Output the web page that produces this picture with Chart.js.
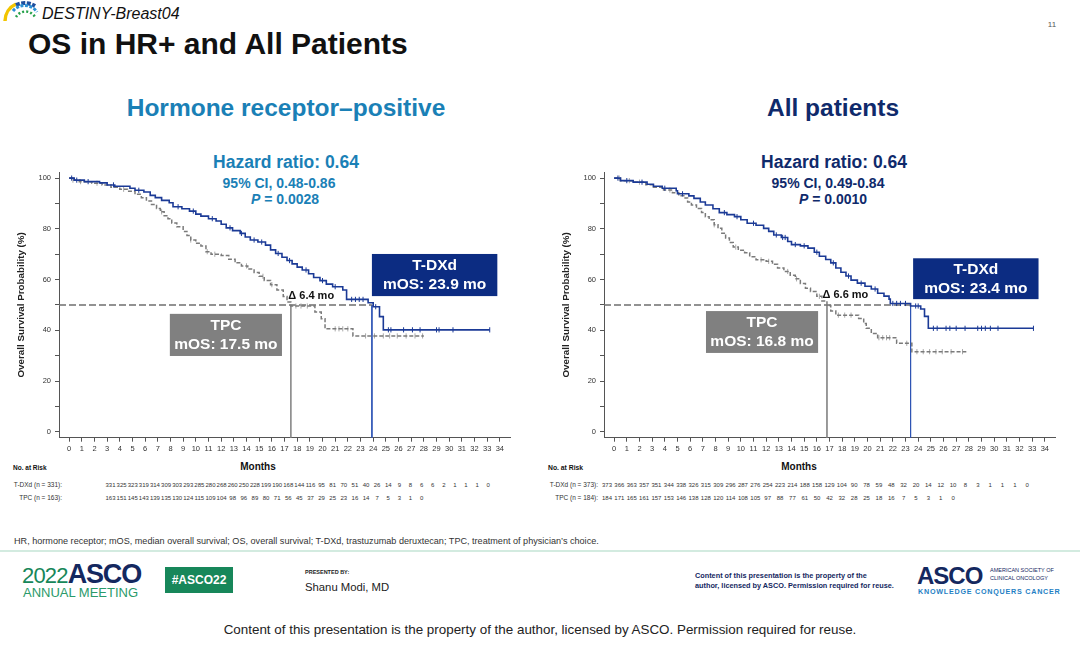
<!DOCTYPE html>
<html>
<head>
<meta charset="utf-8">
<script src="https://cdn.jsdelivr.net/npm/chart.js@4.4.1/dist/chart.umd.min.js"></script>
<style>
body{margin:0;width:1080px;height:646px;background:#fff;position:relative;overflow:hidden;font-family:"Liberation Sans",Arial,sans-serif;color:#111;}
.t{position:absolute;white-space:nowrap;line-height:1;}
.c{transform:translate(-50%,-50%);}
.l{transform:translateY(-50%);}
.r{transform:translate(-100%,-50%);}
.risk{position:absolute;white-space:nowrap;line-height:1;transform:translate(-50%,-50%);font-size:6px;color:#333;}
canvas{position:absolute;}
</style>
</head>
<body>
<svg width="40" height="24" style="position:absolute;left:2px;top:0">
  <path d="M3,21 A19,19 0 0 1 14,4" stroke="#f2c500" stroke-width="3.5" fill="none"/>
  <path d="M14,5 A20,20 0 0 1 33,6" stroke="#1f4f9e" stroke-width="4" stroke-dasharray="4,1.5" fill="none"/>
  <path d="M11,11 A15,15 0 0 1 35,12" stroke="#2c90d5" stroke-width="3" stroke-dasharray="3,1.5" fill="none"/>
  <path d="M14,17 A11,11 0 0 1 33,17" stroke="#27a24b" stroke-width="2.5" stroke-dasharray="2,2" fill="none"/>
</svg>
<div class="t l" style="left:42px;top:14px;font-size:16px;font-style:italic;">DESTINY-Breast04</div>
<div class="t l" style="left:28px;top:44px;font-size:30px;font-weight:bold;">OS in HR+ and All Patients</div>
<div class="t c" style="left:1052px;top:25px;font-size:8px;color:#555;">11</div>

<div class="t c" style="left:286px;top:108px;font-size:24.5px;font-weight:bold;color:#1a80b6;">Hormone receptor–positive</div>
<div class="t c" style="left:286px;top:163px;font-size:17.5px;font-weight:bold;color:#1a80b6;">Hazard ratio: 0.64</div>
<div class="t c" style="left:279px;top:183px;font-size:14px;font-weight:bold;color:#1a80b6;">95% CI, 0.48-0.86</div>
<div class="t c" style="left:285px;top:198.5px;font-size:14px;font-weight:bold;color:#1a80b6;"><i>P</i> = 0.0028</div>

<div class="t c" style="left:833px;top:108px;font-size:24.5px;font-weight:bold;color:#0f2a6b;">All patients</div>
<div class="t c" style="left:834px;top:163px;font-size:17.5px;font-weight:bold;color:#0f2a6b;">Hazard ratio: 0.64</div>
<div class="t c" style="left:828px;top:183px;font-size:14px;font-weight:bold;color:#0f2a6b;">95% CI, 0.49-0.84</div>
<div class="t c" style="left:833px;top:198.5px;font-size:14px;font-weight:bold;color:#0f2a6b;"><i>P</i> = 0.0010</div>

<canvas id="hrChart" width="530" height="300" style="left:0px;top:160px"></canvas>
<canvas id="allChart" width="530" height="300" style="left:545px;top:160px"></canvas>

<div class="t c" style="left:258px;top:467px;font-size:10px;font-weight:bold;">Months</div>
<div class="t l" style="left:13px;top:468px;font-size:6.5px;font-weight:bold;">No. at Risk</div>
<div class="t r" style="left:62px;top:485px;font-size:6.5px;color:#333;">T-DXd (n = 331):</div>
<div class="t r" style="left:62px;top:497.5px;font-size:6.5px;color:#333;">TPC (n = 163):</div>

<div class="t c" style="left:799px;top:467px;font-size:10px;font-weight:bold;">Months</div>
<div class="t l" style="left:548px;top:468px;font-size:6.8px;font-weight:bold;">No. at Risk</div>
<div class="t r" style="left:598px;top:485px;font-size:6.5px;color:#333;">T-DXd (n = 373):</div>
<div class="t r" style="left:598px;top:497.5px;font-size:6.5px;color:#333;">TPC (n = 184):</div>

<div class="t l" style="left:14px;top:542px;font-size:9.1px;color:#333;">HR, hormone receptor; mOS, median overall survival; OS, overall survival; T-DXd, trastuzumab deruxtecan; TPC, treatment of physician’s choice.</div>
<div style="position:absolute;left:0;top:550px;width:1080px;height:2px;background:#d3ebe0;"></div>

<div class="t l" style="left:22px;top:574px;font-size:22px;font-weight:500;color:#17875a;letter-spacing:-0.8px;">2022<b style="color:#14285f;font-size:27px;letter-spacing:-1.2px;">ASCO</b></div>
<div class="t l" style="left:23px;top:592px;font-size:13px;color:#2a9a6a;">ANNUAL MEETING</div>
<div style="position:absolute;left:165px;top:567px;width:68px;height:26px;background:#17875a;"></div>
<div class="t c" style="left:199px;top:580px;font-size:12px;font-weight:bold;color:#fff;">#ASCO22</div>
<div class="t l" style="left:305px;top:573px;font-size:5.5px;font-weight:bold;color:#222;">PRESENTED BY:</div>
<div class="t l" style="left:305px;top:588px;font-size:11.3px;color:#222;">Shanu Modi, MD</div>
<div class="t l" style="left:695px;top:576px;font-size:7.3px;font-weight:bold;color:#14285f;">Content of this presentation is the property of the</div>
<div class="t l" style="left:695px;top:586px;font-size:7.3px;font-weight:bold;color:#14285f;">author, licensed by ASCO. Permission required for reuse.</div>
<div class="t l" style="left:917px;top:576px;font-size:24px;font-weight:bold;color:#14285f;letter-spacing:-1px;">ASCO</div>
<div class="t l" style="left:990px;top:571px;font-size:5.5px;color:#14285f;">AMERICAN SOCIETY OF</div>
<div class="t l" style="left:990px;top:579px;font-size:5.5px;color:#14285f;">CLINICAL ONCOLOGY</div>
<div class="t l" style="left:918px;top:592px;font-size:7.2px;font-weight:bold;color:#1f7fc4;letter-spacing:0.75px;">KNOWLEDGE CONQUERS CANCER</div>

<div class="t c" style="left:540px;top:630px;font-size:13.4px;color:#222;">Content of this presentation  is the property of the author, licensed by ASCO. Permission required for reuse.</div>

<script>
// axis ticks
var months = [0,1,2,3,4,5,6,7,8,9,10,11,12,13,14,15,16,17,18,19,20,21,22,23,24,25,26,27,28,29,30,31,32,33,34];
var yTicks = [0,10,20,30,40,50,60,70,80,90,100];

// HR+ curves [month, survival %]
var hrTdxd = [[0,100],[0.4,99.2],[1.2,98.6],[2.4,98.1],[3.0,97.3],[3.6,96.8],[4.8,96.0],[5.2,95.2],[5.9,94.5],[6.4,93.2],[6.8,92.3],[7.3,91.2],[7.9,90.3],[8.2,88.7],[8.9,87.9],[9.5,87.0],[10.0,85.8],[10.4,85.0],[11.0,84.0],[11.6,83.1],[12.0,81.8],[12.4,80.4],[12.9,79.3],[13.5,78.2],[13.9,76.8],[14.3,75.6],[14.9,74.8],[15.5,73.6],[15.9,71.7],[16.3,70.3],[16.8,68.8],[17.2,67.5],[17.6,66.2],[18.0,64.9],[18.4,63.8],[18.9,62.3],[19.3,60.8],[19.8,59.6],[20.3,58.2],[20.8,57.2],[21.6,55.9],[21.9,52.2],[23.6,50.9],[24.0,49.3],[24.5,45.4],[24.8,40.2],[33.2,40.2]];
var hrTpc = [[0,100],[0.3,99.2],[0.8,98.6],[1.8,98.0],[2.6,97.3],[3.3,96.4],[4.0,95.6],[4.6,94.8],[5.2,93.6],[5.7,92.3],[6.1,91.0],[6.5,89.6],[6.9,88.0],[7.2,86.7],[7.5,85.2],[7.8,84.0],[8.1,82.3],[8.5,80.8],[9.0,79.0],[9.3,77.4],[9.6,75.6],[10.0,74.3],[10.4,73.2],[10.8,71.0],[11.2,70.0],[12.0,69.5],[12.6,68.0],[13.1,66.6],[13.6,65.4],[14.1,64.2],[14.6,62.8],[15.0,61.3],[15.4,59.6],[15.9,58.0],[16.4,55.9],[16.9,53.3],[17.2,51.2],[17.5,49.6],[19.4,47.2],[19.9,44.6],[20.2,40.6],[22.4,37.8],[28.0,37.8]];
var hrTdxdCensor = [0.2,0.6,1.5,3.5,5.5,8.6,9.8,11.3,12.7,13.6,14.6,15.2,16.5,17.4,18.7,20.0,21.0,22.3,22.6,22.9,23.2,24.2,25.2,25.4,26.4,27.1,27.7,29.0,29.2,30.3,33.2];
var hrTpcCensor = [0.3,0.9,2.2,4.3,7.3,9.6,10.9,11.5,14.0,15.3,16.0,17.9,18.3,18.8,21.0,21.3,21.6,22.0,23.4,24.1,24.8,25.3,25.9,26.6,27.3,27.9];
var hrMedianTdxd = 23.9, hrMedianTpc = 17.5;
var hrRiskTdxd = [331,325,323,319,314,309,303,293,285,280,268,260,250,228,199,190,168,144,116,95,81,70,51,40,26,14,9,8,6,6,2,1,1,1,0];
var hrRiskTpc = [163,151,145,143,139,135,130,124,115,109,104,98,96,89,80,71,56,45,37,29,25,23,16,14,7,5,3,1,0];

// all patients curves
var allTdxd = [[0,100],[0.5,99.0],[1.5,98.4],[2.6,97.6],[3.1,96.8],[3.8,96.0],[4.9,95.0],[5.0,93.8],[5.9,93.0],[6.3,92.0],[6.8,90.6],[7.2,89.4],[7.8,87.9],[8.3,86.4],[8.9,85.6],[9.5,84.8],[10.0,83.6],[10.5,82.2],[11.2,81.4],[11.8,80.2],[12.2,79.0],[12.6,77.6],[13.2,76.6],[13.7,75.0],[14.0,73.8],[14.7,73.3],[15.3,72.4],[15.8,70.8],[16.2,69.2],[16.7,67.9],[17.1,66.6],[17.5,64.6],[17.9,62.9],[18.3,61.4],[18.7,59.8],[19.2,58.6],[19.8,57.4],[20.3,56.3],[20.8,54.6],[21.3,53.5],[21.7,52.3],[21.8,50.6],[23.4,49.6],[24.2,48.4],[24.5,45.5],[24.8,40.8],[33.1,40.8]];
var allTpc = [[0,100],[0.5,99.0],[1.5,98.4],[2.5,97.4],[3.1,96.4],[3.9,95.3],[4.6,94.2],[5.1,93.0],[5.5,92.2],[5.8,90.6],[6.1,89.4],[6.5,88.0],[6.9,86.4],[7.2,84.8],[7.5,83.6],[7.9,81.6],[8.2,80.2],[8.5,78.3],[8.8,76.4],[9.1,74.6],[9.4,72.8],[9.8,71.6],[10.3,70.6],[10.7,69.0],[11.2,67.8],[12.0,67.2],[12.5,66.0],[12.9,64.6],[13.4,63.2],[13.9,61.7],[14.3,60.3],[14.7,58.5],[15.1,56.6],[15.5,55.3],[16.0,53.4],[16.4,51.6],[16.8,49.8],[17.1,47.6],[17.5,46.0],[19.3,44.7],[19.7,42.7],[19.9,40.8],[20.3,38.8],[20.8,37.1],[22.3,34.9],[23.5,31.6],[27.8,31.6]];
var allTdxdCensor = [0.3,1.0,2.2,4.0,5.4,8.7,9.7,11.0,12.8,13.3,13.5,14.3,15.0,16.0,17.3,18.5,19.5,20.6,22.0,22.3,22.6,23.0,23.8,24.0,25.2,25.5,26.2,26.5,27.0,27.7,28.7,29.0,29.3,29.7,30.3,33.1];
var allTpcCensor = [0.4,1.2,2.0,4.4,7.9,9.6,11.6,12.2,13.7,14.4,16.2,17.7,18.2,18.7,20.9,21.2,21.5,21.75,23.1,23.9,24.4,24.9,25.4,25.9,26.6,27.5];
var allMedianTdxd = 23.4, allMedianTpc = 16.8;
var allRiskTdxd = [373,366,363,357,351,344,338,326,315,309,296,287,276,254,223,214,188,158,129,104,90,78,59,48,32,20,14,12,10,8,3,1,1,1,0];
var allRiskTpc = [184,171,165,161,157,153,146,138,128,120,114,108,105,97,88,77,61,50,42,32,28,25,18,16,7,5,3,1,0];

var navy = '#1b3a96';
var gray = '#7a7a7a';
var xMin = -0.8, xMax = 34.8, yMin = -2.3, yMax = 102.4;

function survAt(curve, t) {
  var v = curve[0][1];
  for (var i = 0; i < curve.length; i++) {
    if (curve[i][0] <= t) v = curve[i][1];
  }
  return v;
}

function pts(curve) {
  return curve.map(function(p){ return {x: p[0], y: p[1]}; });
}

function censorPts(curve, times) {
  return times.map(function(t){ return {x: t, y: survAt(curve, t)}; });
}

var notesPlugin = {
  id: 'notes',
  afterDatasetsDraw: function(chart, args, opts) {
    var ctx = chart.ctx, xs = chart.scales.x, ys = chart.scales.y;
    ctx.save();
    opts.boxes.forEach(function(b){
      var x0 = xs.getPixelForValue(b.x0), x1 = xs.getPixelForValue(b.x1);
      var y0 = ys.getPixelForValue(b.top), y1 = ys.getPixelForValue(b.bottom);
      ctx.fillStyle = b.color;
      ctx.fillRect(x0, y0, x1 - x0, y1 - y0);
      ctx.fillStyle = '#fff';
      ctx.font = 'bold 15.5px "Liberation Sans", Arial';
      ctx.textAlign = 'center';
      ctx.textBaseline = 'middle';
      var cx = (x0 + x1) / 2, h = y1 - y0;
      ctx.fillText(b.lines[0], cx, y0 + h * 0.29);
      ctx.fillText(b.lines[1], cx, y0 + h * 0.74);
    });
    ctx.fillStyle = '#111';
    ctx.font = 'bold 11px "Liberation Sans", Arial';
    ctx.textAlign = 'left';
    ctx.textBaseline = 'middle';
    ctx.fillText(opts.delta.text, xs.getPixelForValue(opts.delta.x), ys.getPixelForValue(opts.delta.y));
    ctx.restore();
  }
};

function makeChart(id, d) {
  var ctx = document.getElementById(id);
  return new Chart(ctx, {
    type: 'line',
    data: {
      datasets: [
        { data: pts(d.tdxd), borderColor: navy, borderWidth: 1.6, stepped: true, pointRadius: 0, order: 1 },
        { data: censorPts(d.tdxd, d.tdxdCensor), showLine: false, pointStyle: 'line', rotation: 90, pointRadius: 2.6, borderColor: navy, borderWidth: 1, order: 1 },
        { data: pts(d.tpc), borderColor: gray, borderWidth: 1.5, borderDash: [4, 2], stepped: true, pointRadius: 0, order: 2 },
        { data: censorPts(d.tpc, d.tpcCensor), showLine: false, pointStyle: 'line', rotation: 90, pointRadius: 2.6, borderColor: '#a8a8a8', borderWidth: 1, order: 2 },
        { data: [{x: xMin, y: 50}, {x: d.medTdxd, y: 50}], borderColor: '#6f6f6f', borderWidth: 1.3, borderDash: [7, 3], pointRadius: 0, order: 3 },
        { data: [{x: d.medTpc, y: 50}, {x: d.medTpc, y: yMin}], borderColor: '#8c8c8c', borderWidth: 1, pointRadius: 0, order: 3 },
        { data: [{x: d.medTdxd, y: 50}, {x: d.medTdxd, y: yMin}], borderColor: '#2f55b5', borderWidth: 1, pointRadius: 0, order: 3 }
      ]
    },
    options: {
      responsive: false,
      animation: false,
      layout: { padding: { top: 12, right: 20, left: 0, bottom: 0 } },
      plugins: {
        legend: { display: false },
        tooltip: { enabled: false },
        notes: { boxes: d.boxes, delta: d.delta }
      },
      scales: {
        x: {
          type: 'linear', min: xMin, max: xMax,
          afterFit: function(s){ s.height = 22.3; },
          afterBuildTicks: function(s){ s.ticks = months.map(function(v){ return {value: v}; }); },
          grid: { drawOnChartArea: false, drawTicks: true, tickLength: 4, color: '#555' },
          border: { display: true, color: '#555', width: 1 },
          ticks: { font: { size: 7.5, family: '"Liberation Sans", Arial' }, color: '#333', padding: 3, maxRotation: 0, autoSkip: false }
        },
        y: {
          type: 'linear', min: yMin, max: yMax,
          afterFit: function(s){ s.width = 59; },
          afterBuildTicks: function(s){ s.ticks = yTicks.map(function(v){ return {value: v}; }); },
          grid: { drawOnChartArea: false, drawTicks: true, tickLength: 4, color: '#555' },
          border: { display: true, color: '#555', width: 1 },
          ticks: { font: { size: 7.5, family: '"Liberation Sans", Arial' }, color: '#333', padding: 4,
            callback: function(v){ return v % 20 === 0 ? v : ''; } },
          title: { display: true, text: 'Overall Survival Probability (%)', color: '#222',
            font: { size: 9.8, weight: 'bold', family: '"Liberation Sans", Arial' }, padding: { top: 15.8, bottom: 0 } }
        }
      }
    },
    plugins: [notesPlugin]
  });
}

makeChart('hrChart', {
  tdxd: hrTdxd, tpc: hrTpc, tdxdCensor: hrTdxdCensor, tpcCensor: hrTpcCensor,
  medTdxd: hrMedianTdxd, medTpc: hrMedianTpc,
  boxes: [
    { x0: 23.9, x1: 33.8, top: 70.1, bottom: 53.5, color: '#0c2c82', lines: ['T-DXd', 'mOS: 23.9 mo'] },
    { x0: 7.95, x1: 16.8, top: 46.5, bottom: 29.9, color: '#808080', lines: ['TPC', 'mOS: 17.5 mo'] }
  ],
  delta: { text: 'Δ 6.4 mo', x: 17.3, y: 53.7 }
});

makeChart('allChart', {
  tdxd: allTdxd, tpc: allTpc, tdxdCensor: allTdxdCensor, tpcCensor: allTpcCensor,
  medTdxd: allMedianTdxd, medTpc: allMedianTpc,
  boxes: [
    { x0: 23.6, x1: 33.5, top: 68.4, bottom: 52.3, color: '#0c2c82', lines: ['T-DXd', 'mOS: 23.4 mo'] },
    { x0: 7.25, x1: 16.1, top: 47.6, bottom: 31.1, color: '#808080', lines: ['TPC', 'mOS: 16.8 mo'] }
  ],
  delta: { text: 'Δ 6.6 mo', x: 16.45, y: 53.9 }
});

// numbers at risk rows
function riskRow(vals, x0, step, y) {
  vals.forEach(function(v, i){
    var s = document.createElement('div');
    s.className = 'risk';
    s.style.left = (x0 + i * step) + 'px';
    s.style.top = y + 'px';
    s.textContent = v;
    document.body.appendChild(s);
  });
}
riskRow(hrRiskTdxd, 110.5, 11.11, 485);
riskRow(hrRiskTpc, 110.5, 11.11, 497.5);
riskRow(allRiskTdxd, 607, 12.36, 485);
riskRow(allRiskTpc, 607, 12.36, 497.5);
</script>
</body>
</html>
